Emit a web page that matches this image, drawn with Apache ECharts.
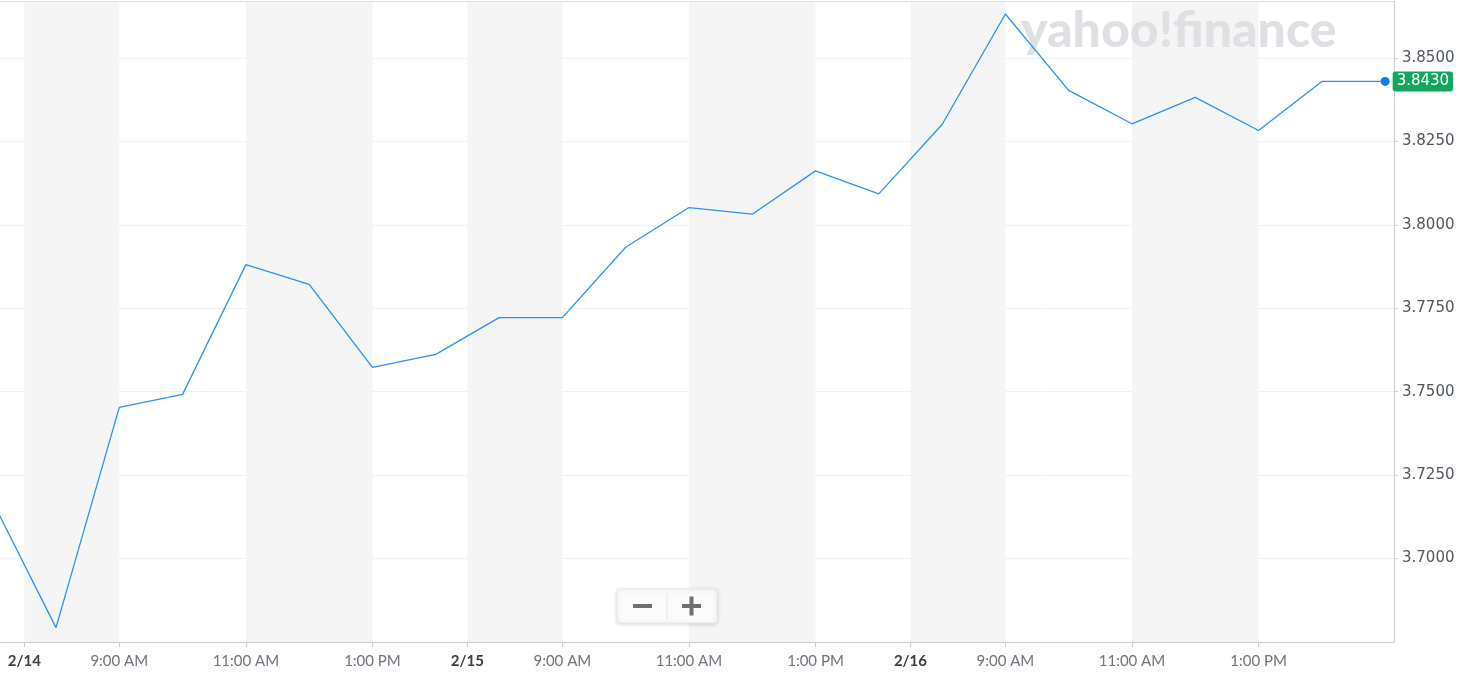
<!DOCTYPE html>
<html>
<head>
<meta charset="utf-8">
<script src="https://cdn.jsdelivr.net/npm/echarts@6/dist/echarts.min.js"></script>
<style>
html,body{margin:0;padding:0;background:#fff;}
#chart{width:1462px;height:681px;}
</style>
</head>
<body>
<div id="chart"></div>
<script>
// Hourly session points (index 0 = previous session's last hour, off-screen on the left)
const times = ['2/13 2 PM',
  '2/14 8 AM','2/14 9 AM','2/14 10 AM','2/14 11 AM','2/14 12 PM','2/14 1 PM','2/14 2 PM',
  '2/15 8 AM','2/15 9 AM','2/15 10 AM','2/15 11 AM','2/15 12 PM','2/15 1 PM','2/15 2 PM',
  '2/16 8 AM','2/16 9 AM','2/16 10 AM','2/16 11 AM','2/16 12 PM','2/16 1 PM','2/16 2 PM','2/16 3 PM'];
const prices = [3.7170,
  3.6793, 3.7453, 3.7492, 3.7881, 3.7822, 3.7573, 3.7612,
  3.7722, 3.7722, 3.7933, 3.8052, 3.8032, 3.8162, 3.8093,
  3.8301, 3.8632, 3.8403, 3.8303, 3.8382, 3.8283, 3.8430, 3.8430];
// axis ticks, in the same session-index units
const tickIndex  = [0.5, 2, 4, 6, 7.5, 9, 11, 13, 14.5, 16, 18, 20];
const tickLabels = ['2/14','9:00 AM','11:00 AM','1:00 PM','2/15','9:00 AM','11:00 AM','1:00 PM','2/16','9:00 AM','11:00 AM','1:00 PM'];
const isDateTick = [true,false,false,false,true,false,false,false,true,false,false,false];
const shadedRanges = [[0.5,2],[4,6],[7.5,9],[11,13],[14.5,16],[18,20]];
const yTicks = [3.7000, 3.7250, 3.7500, 3.7750, 3.8000, 3.8250, 3.8500];
const lastPrice = 3.8430;

const chart = echarts.init(document.getElementById('chart'), null, {renderer:'canvas'});
const lastIdx = prices.length - 1;
const seriesData = prices.map((v,i) => {
  if (i === lastIdx) {
    return {
      value: [i, v],
      symbol: 'circle', symbolSize: 9,
      itemStyle: {color:'#0a7ff0'},
      label: {
        show: true, position: 'right', distance: 3,
        formatter: () => lastPrice.toFixed(4),
        color: '#fff', backgroundColor: '#12a85a',
        fontFamily: 'DejaVu Sans', fontSize: 15,
        padding: [3,4,2,4], borderRadius: 3
      }
    };
  }
  return {value:[i, v], symbol:'none'};
});

const option = {
  animation: false,
  grid: {left: 0, right: 68, top: 1, bottom: 39, containLabel: false},
  graphic: [
    {type:'line', z: 3, shape:{x1:0, y1:1.5, x2:1394, y2:1.5}, style:{stroke:'#dedede', lineWidth:1}},
    {type:'text', z: 3, left: 1021, top: 6,
      style:{text:'yahoo!finance', fill:'#dfe0e4', font:'900 50px Lato'}},
    {type:'rect', z: 100, shape:{x:617,y:589,width:100,height:34,r:3},
      style:{fill:'#fbfbfb', stroke:'#e8e8e8', lineWidth:1, shadowBlur:4, shadowColor:'rgba(0,0,0,0.15)', shadowOffsetY:1}},
    {type:'line', z: 101, shape:{x1:667,y1:593,x2:667,y2:619}, style:{stroke:'#e4e4e4', lineWidth:1}},
    {type:'rect', z: 101, shape:{x:633,y:604,width:19,height:4}, style:{fill:'#707070'}},
    {type:'rect', z: 101, shape:{x:682,y:604,width:19,height:4}, style:{fill:'#707070'}},
    {type:'rect', z: 101, shape:{x:689.5,y:596.5,width:4,height:19}, style:{fill:'#707070'}}
  ],
  xAxis: {
    type: 'value', min: 0.1152, max: 22.14,
    axisLine: {show:true, lineStyle:{color:'#c9ccd0', width:1}},
    axisTick: {show:true, customValues: tickIndex, length:5, lineStyle:{color:'#c9ccd0'}},
    splitLine: {show:false},
    axisLabel: {
      customValues: tickIndex, margin: 12,
      formatter: (v) => {
        const k = tickIndex.findIndex(t => Math.abs(t - v) < 1e-6);
        if (k < 0) return '';
        return isDateTick[k] ? '{d|' + tickLabels[k] + '}' : '{t|' + tickLabels[k] + '}';
      },
      rich: {
        d: {fontFamily:'Lato', fontSize:15, fontWeight:'bold', color:'#3a3f45'},
        t: {fontFamily:'Lato', fontSize:15, color:'#6f757c'}
      }
    }
  },
  yAxis: {
    type: 'value', position: 'right', min: 3.675, max: 3.8671, interval: 0.025,
    axisLine: {show:true, lineStyle:{color:'#c9ccd0', width:1}},
    axisTick: {show:true, length:4, lineStyle:{color:'#c9ccd0'}},
    splitLine: {show:true, lineStyle:{color:'#f0f0f0', width:1}},
    axisLabel: {
      margin: 8, color:'#50575e', fontFamily:'DejaVu Sans', fontSize:15,
      showMinLabel:false, showMaxLabel:false,
      formatter: (v) => yTicks.some(t => Math.abs(t - v) < 1e-6) ? v.toFixed(4) : ''
    }
  },
  series: [{
    type: 'line', z: 1,
    data: [],
    markArea: {
      silent: true,
      itemStyle: {color:'#f5f5f5'},
      data: shadedRanges.map(r => [{xAxis:r[0]},{xAxis:r[1]}])
    }
  }, {
    type: 'line', z: 5,
    data: seriesData,
    showSymbol: true,
    lineStyle: {color:'#2b92f2', width:1.3},
    itemStyle: {color:'#2b92f2'}
  }]
};
chart.setOption(option);
</script>
</body>
</html>
